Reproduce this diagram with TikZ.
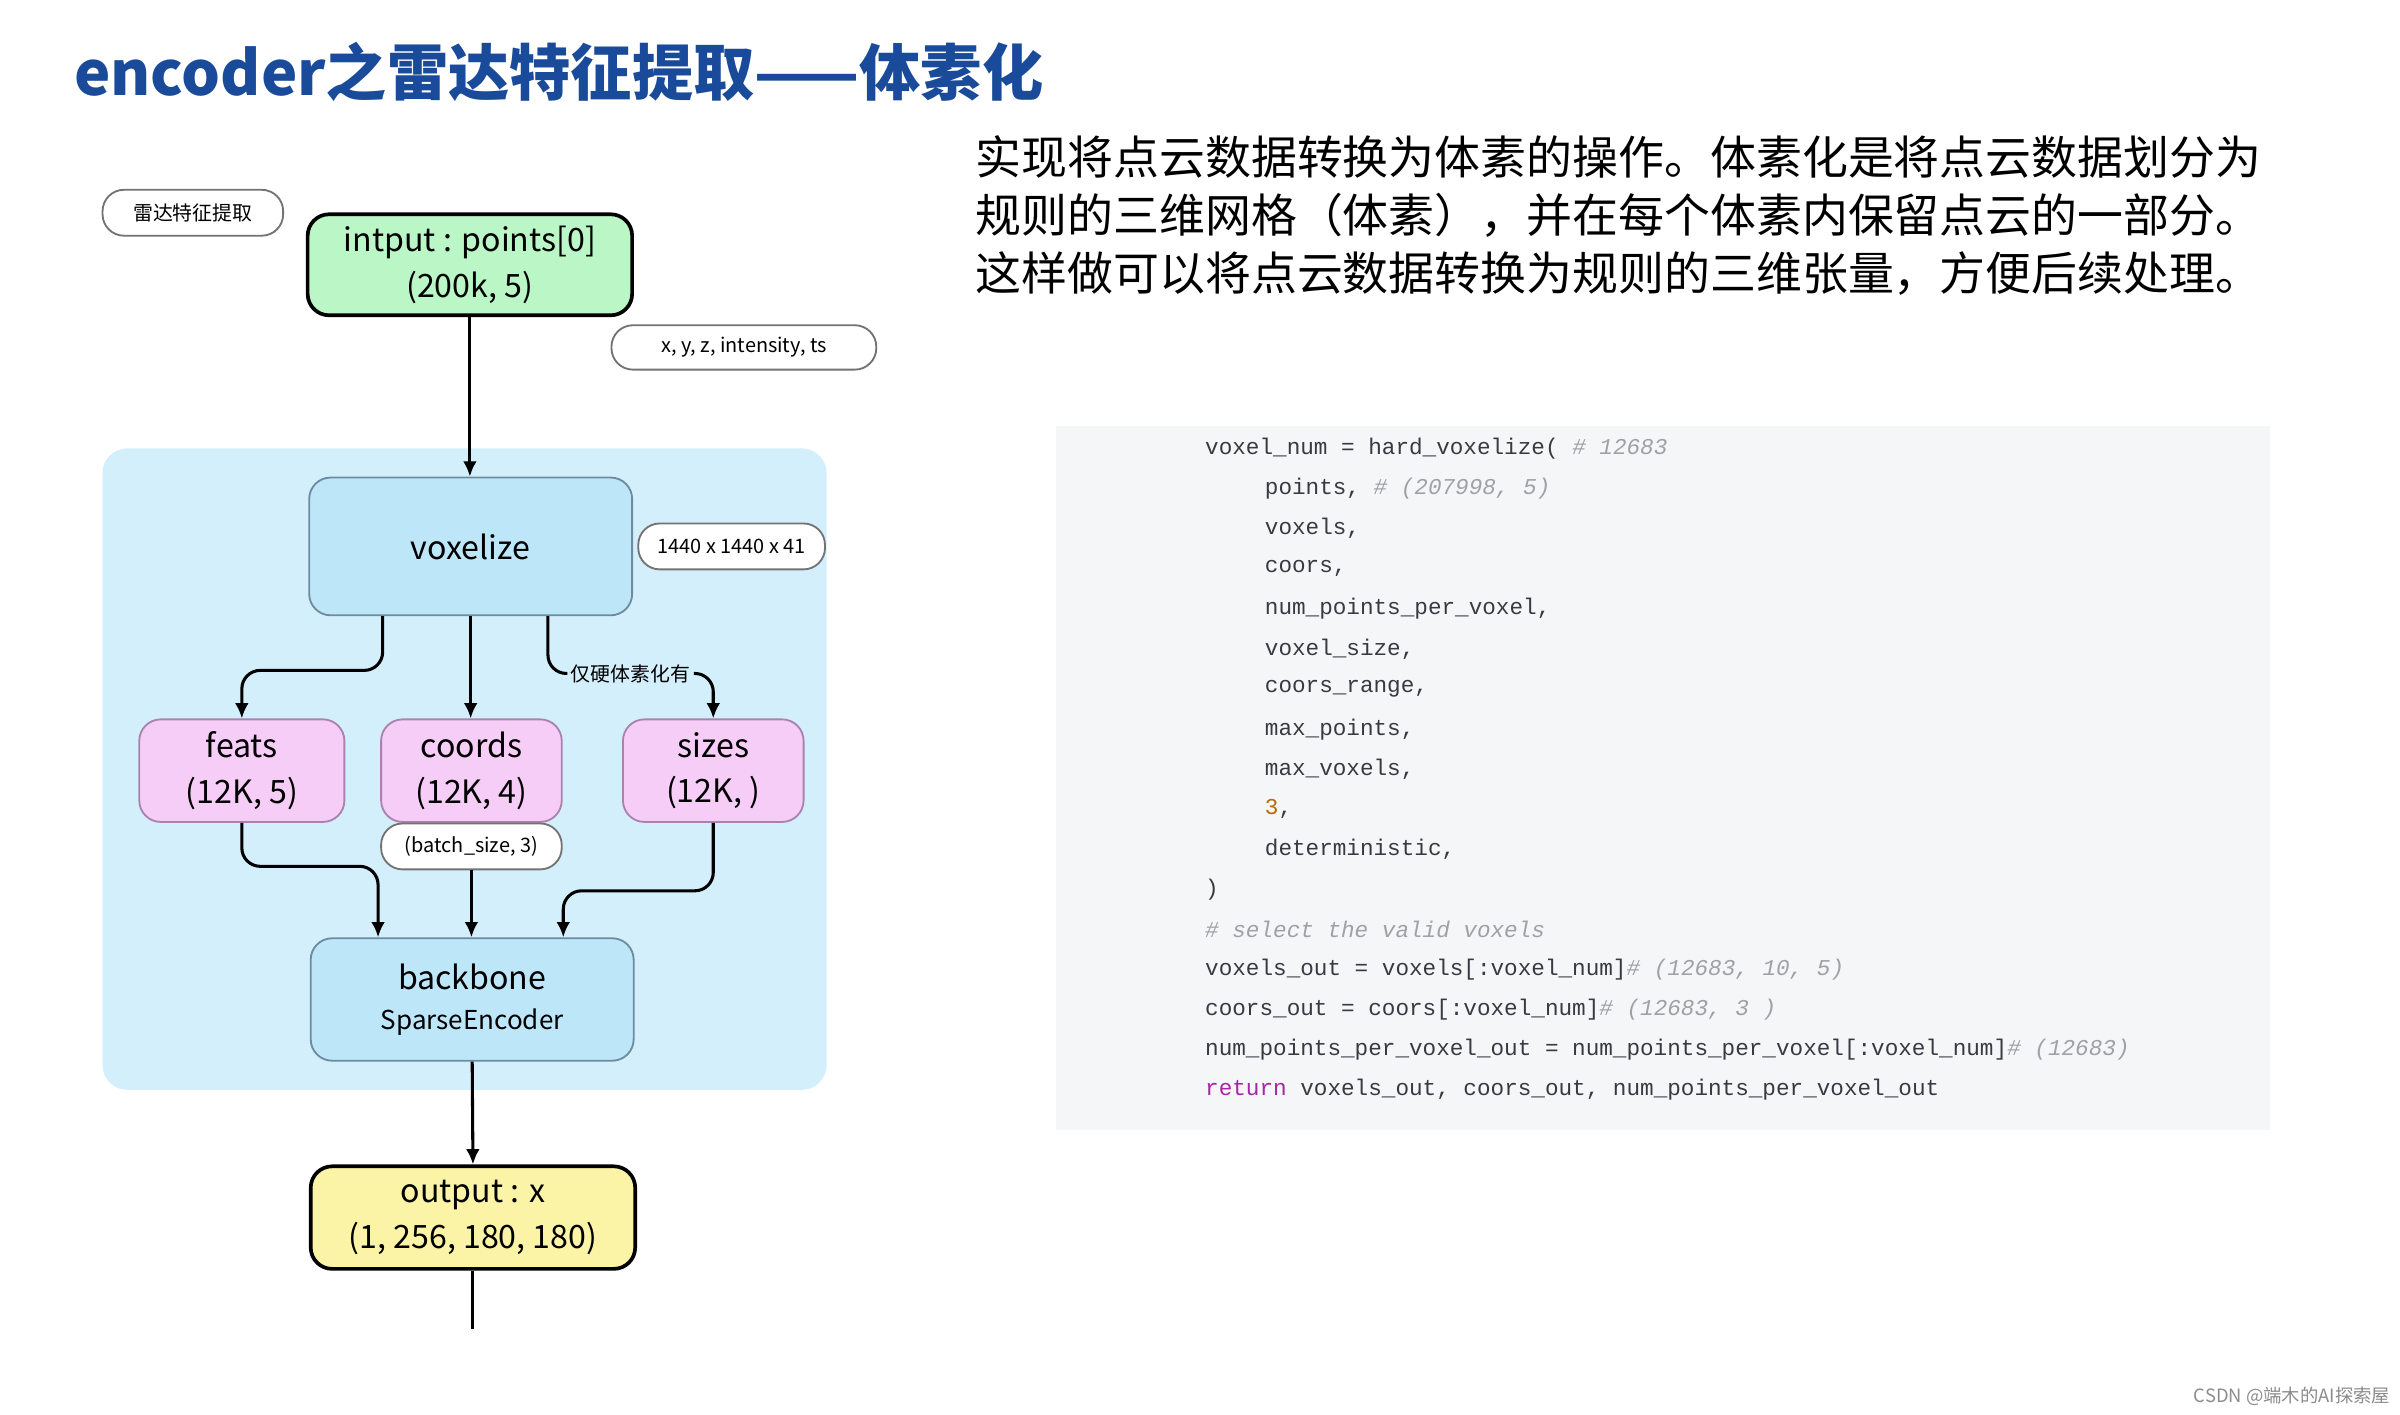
\documentclass[tikz,border=0pt]{standalone}
\usepackage{fontspec}
\setmainfont{Noto Sans CJK SC}
\newfontfamily\codef{Liberation Mono}
\usetikzlibrary{arrows.meta}
\definecolor{ttl}{HTML}{1A4B9B}
\definecolor{cdt}{HTML}{383A42}
\definecolor{cmt}{HTML}{A0A1A7}
\definecolor{num}{HTML}{B76B01}
\definecolor{kw}{HTML}{A626A4}
\begin{document}
\begin{tikzpicture}[x=0.5pt,y=-0.5pt,
 chip/.style={draw=black!55,line width=0.6pt,rounded corners=7pt,fill=white,font=\fontsize{6.5}{8}\selectfont,inner sep=0pt},
 box/.style={rounded corners=7pt,align=center,inner sep=0pt,font=\fontsize{10.5}{15}\selectfont},
 arr/.style={line width=1pt,-{Latex[length=5pt,width=4.5pt]},rounded corners=6pt},
 cl/.style={anchor=west,inner sep=0pt,font=\codef\fontsize{7.4}{9}\selectfont\color{cdt}}]
\useasboundingbox[fill=white] (0,0) rectangle (1568,924);
% title
\node[anchor=west,inner sep=0pt,font=\bfseries\fontsize{20}{24}\selectfont,text=ttl] (title) at (48,47) {encoder之雷达特征提取——体素化};
\node[anchor=north west,inner sep=0pt,align=left,font=\fontsize{15}{19}\selectfont] (desc) at (637,88) {实现将点云数据转换为体素的操作。体素化是将点云数据划分为\\规则的三维网格（体素），并在每个体素内保留点云的一部分。\\这样做可以将点云数据转换为规则的三维张量，方便后续处理。};
% background
\fill[fill={rgb,255:red,212;green,239;blue,252},rounded corners=8pt] (67,293) rectangle (540,712);
\node[chip,minimum width=59pt,minimum height=15pt] (c1) at (126,139) {雷达特征提取};
\node[box,draw=black,line width=1.2pt,fill={rgb,255:red,186;green,246;blue,198},minimum width=106pt,minimum height=33pt] (in) at (307,173) {intput : points[0]\\(200k, 5)};
\node[chip,minimum width=86.5pt,minimum height=14.5pt] (c2) at (486,227) {x, y, z, intensity, ts};
\node[box,draw={rgb,255:red,110;green,140;blue,160},line width=0.6pt,fill={rgb,255:red,189;green,230;blue,249},minimum width=105.5pt,minimum height=45pt] (vox) at (307.5,357) {voxelize};
\node[chip,minimum width=61pt,minimum height=15pt] (c3) at (478,357) {1440 x 1440 x 41};
\tikzset{pk/.style={box,draw={rgb,255:red,170;green,130;blue,175},line width=0.6pt,fill={rgb,255:red,245;green,205;blue,247},minimum height=33.5pt}}
\node[pk,minimum width=67pt] (feats) at (158,503.5) {feats\\(12K, 5)};
\node[pk,minimum width=59pt] (coords) at (308,503.5) {coords\\(12K, 4)};
\node[pk,minimum width=59pt] (sizes) at (466,503.5) {sizes\\(12K, )};
\node[chip,minimum width=59pt,minimum height=15pt] (batch) at (308,553) {(batch\_size, 3)};
\node[box,draw={rgb,255:red,110;green,140;blue,160},line width=0.6pt,fill={rgb,255:red,189;green,230;blue,249},minimum width=105.5pt,minimum height=40pt,font=\fontsize{10.5}{13}\selectfont] (bb) at (308.5,653) {backbone\\{\fontsize{8.5}{11}\selectfont SparseEncoder}};
\node[box,draw=black,line width=1.2pt,fill={rgb,255:red,251;green,243;blue,165},minimum width=106pt,minimum height=33.5pt] (out) at (309,795.5) {output : x\\(1, 256, 180, 180)};
\node[inner sep=1pt,font=\fontsize{6.5}{8}\selectfont] (lbl) at (412,440) {仅硬体素化有};
\coordinate (oend) at (309,868);
% connectors
\draw[arr] (in.south) -- (in.south |- vox.north);
\draw[arr] ([xshift=-28.75pt]vox.south) |- (158,438) -- (feats.north);
\draw[arr] (vox.south) -- (vox.south |- coords.north);
\draw[line width=1pt,rounded corners=6pt] ([xshift=25.25pt]vox.south) |- (lbl.west);
\draw[arr] (lbl.east) -| (sizes.north);
\draw[arr] (feats.south) |- (247,566) -- ([xshift=-30.75pt]bb.north);
\draw[arr] (batch.south) -- (batch.south |- bb.north);
\draw[arr] (sizes.south) |- (368,582) -- ([xshift=29.75pt]bb.north);
\draw[arr] (bb.south) -- (out.north);
\draw[line width=1pt] (out.south) -- (oend);
% code
\fill[fill={rgb,255:red,245;green,246;blue,248}] (690,278) rectangle (1483,738);
\node[cl] (l1) at (787,293) {voxel\_num = hard\_voxelize(  {\color{cmt}\itshape \# 12683}};
\node[cl] (l2) at (826,319.2) {points, {\color{cmt}\itshape \# (207998, 5)}};
\node[cl] (l3) at (826,345.4) {voxels,};
\node[cl] (l4) at (826,371.6) {coors,};
\node[cl] (l5) at (826,397.8) {num\_points\_per\_voxel,};
\node[cl] (l6) at (826,424) {voxel\_size,};
\node[cl] (l7) at (826,450.2) {coors\_range,};
\node[cl] (l8) at (826,476.4) {max\_points,};
\node[cl] (l9) at (826,502.6) {max\_voxels,};
\node[cl] (l10) at (826,528.8) {{\color{num}3},};
\node[cl] (l11) at (826,555) {deterministic,};
\node[cl] (l12) at (787,581.2) {)};
\node[cl] (l13) at (787,607.4) {{\color{cmt}\itshape \# select the valid voxels}};
\node[cl] (l14) at (787,633.6) {voxels\_out = voxels[:voxel\_num]{\color{cmt}\itshape \#  (12683,  10,  5)}};
\node[cl] (l15) at (787,659.8) {coors\_out = coors[:voxel\_num]{\color{cmt}\itshape \# (12683,  3 )}};
\node[cl] (l16) at (787,686) {num\_points\_per\_voxel\_out = num\_points\_per\_voxel[:voxel\_num]{\color{cmt}\itshape \# (12683)}};
\node[cl] (l17) at (787,712.2) {{\color{kw}return} voxels\_out, coors\_out, num\_points\_per\_voxel\_out};
\node[anchor=east,inner sep=0pt,font=\fontsize{6}{7}\selectfont,text=black!45] (foot) at (1562,912) {CSDN @端木的AI探索屋};
\end{tikzpicture}
\end{document}
